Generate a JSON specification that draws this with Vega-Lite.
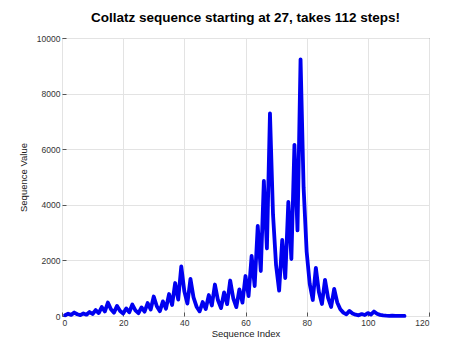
{
  "$schema": "https://vega.github.io/schema/vega-lite/v6.json",
  "width": 367,
  "height": 278,
  "autosize": {"type": "none"},
  "padding": {"left": 62, "top": 38, "right": 45, "bottom": 39},
  "background": "white",
  "title": {"text": "Collatz sequence starting at 27, takes 112 steps!", "fontSize": 13.5, "fontWeight": "bold", "font": "Liberation Sans", "color": "#000000", "anchor": "middle", "offset": 10},
  "config": {
    "view": {"stroke": "#555555", "strokeWidth": 1},
    "axis": {"labelFont": "Liberation Sans", "titleFont": "Liberation Sans", "labelFontSize": 8.5, "titleFontSize": 9.5, "titleFontWeight": "normal", "labelColor": "#333333", "titleColor": "#222222", "gridColor": "#e3e3e3", "gridWidth": 1, "domain": false, "tickColor": "#555555", "tickSize": -4, "tickWidth": 1}
  },
  "data": {"values": [
    {"i":1,"v":27},{"i":2,"v":82},{"i":3,"v":41},{"i":4,"v":124},{"i":5,"v":62},{"i":6,"v":31},{"i":7,"v":94},{"i":8,"v":47},{"i":9,"v":142},{"i":10,"v":71},
    {"i":11,"v":214},{"i":12,"v":107},{"i":13,"v":322},{"i":14,"v":161},{"i":15,"v":484},{"i":16,"v":242},{"i":17,"v":121},{"i":18,"v":364},{"i":19,"v":182},{"i":20,"v":91},
    {"i":21,"v":274},{"i":22,"v":137},{"i":23,"v":412},{"i":24,"v":206},{"i":25,"v":103},{"i":26,"v":310},{"i":27,"v":155},{"i":28,"v":466},{"i":29,"v":233},{"i":30,"v":700},
    {"i":31,"v":350},{"i":32,"v":175},{"i":33,"v":526},{"i":34,"v":263},{"i":35,"v":790},{"i":36,"v":395},{"i":37,"v":1186},{"i":38,"v":593},{"i":39,"v":1780},{"i":40,"v":890},
    {"i":41,"v":445},{"i":42,"v":1336},{"i":43,"v":668},{"i":44,"v":334},{"i":45,"v":167},{"i":46,"v":502},{"i":47,"v":251},{"i":48,"v":754},{"i":49,"v":377},{"i":50,"v":1132},
    {"i":51,"v":566},{"i":52,"v":283},{"i":53,"v":850},{"i":54,"v":425},{"i":55,"v":1276},{"i":56,"v":638},{"i":57,"v":319},{"i":58,"v":958},{"i":59,"v":479},{"i":60,"v":1438},
    {"i":61,"v":719},{"i":62,"v":2158},{"i":63,"v":1079},{"i":64,"v":3238},{"i":65,"v":1619},{"i":66,"v":4858},{"i":67,"v":2429},{"i":68,"v":7288},{"i":69,"v":3644},{"i":70,"v":1822},
    {"i":71,"v":911},{"i":72,"v":2734},{"i":73,"v":1367},{"i":74,"v":4102},{"i":75,"v":2051},{"i":76,"v":6154},{"i":77,"v":3077},{"i":78,"v":9232},{"i":79,"v":4616},{"i":80,"v":2308},
    {"i":81,"v":1154},{"i":82,"v":577},{"i":83,"v":1732},{"i":84,"v":866},{"i":85,"v":433},{"i":86,"v":1300},{"i":87,"v":650},{"i":88,"v":325},{"i":89,"v":976},{"i":90,"v":488},
    {"i":91,"v":244},{"i":92,"v":122},{"i":93,"v":61},{"i":94,"v":184},{"i":95,"v":92},{"i":96,"v":46},{"i":97,"v":23},{"i":98,"v":70},{"i":99,"v":35},{"i":100,"v":106},
    {"i":101,"v":53},{"i":102,"v":160},{"i":103,"v":80},{"i":104,"v":40},{"i":105,"v":20},{"i":106,"v":10},{"i":107,"v":5},{"i":108,"v":16},{"i":109,"v":8},{"i":110,"v":4},
    {"i":111,"v":2},{"i":112,"v":1}
  ]},
  "mark": {"type": "line", "color": "#0000f0", "strokeWidth": 3.8, "strokeJoin": "round", "strokeCap": "round"},
  "encoding": {
    "x": {"field": "i", "type": "quantitative", "title": "Sequence Index", "scale": {"domain": [0, 120], "nice": false}, "axis": {"values": [0,20,40,60,80,100,120], "format": "d", "labelPadding": 6, "titlePadding": 2}},
    "y": {"field": "v", "type": "quantitative", "title": "Sequence Value", "scale": {"domain": [0, 10000], "nice": false}, "axis": {"values": [0,2000,4000,6000,8000,10000], "format": "d", "labelPadding": 6, "titlePadding": 8}}
  }
}
